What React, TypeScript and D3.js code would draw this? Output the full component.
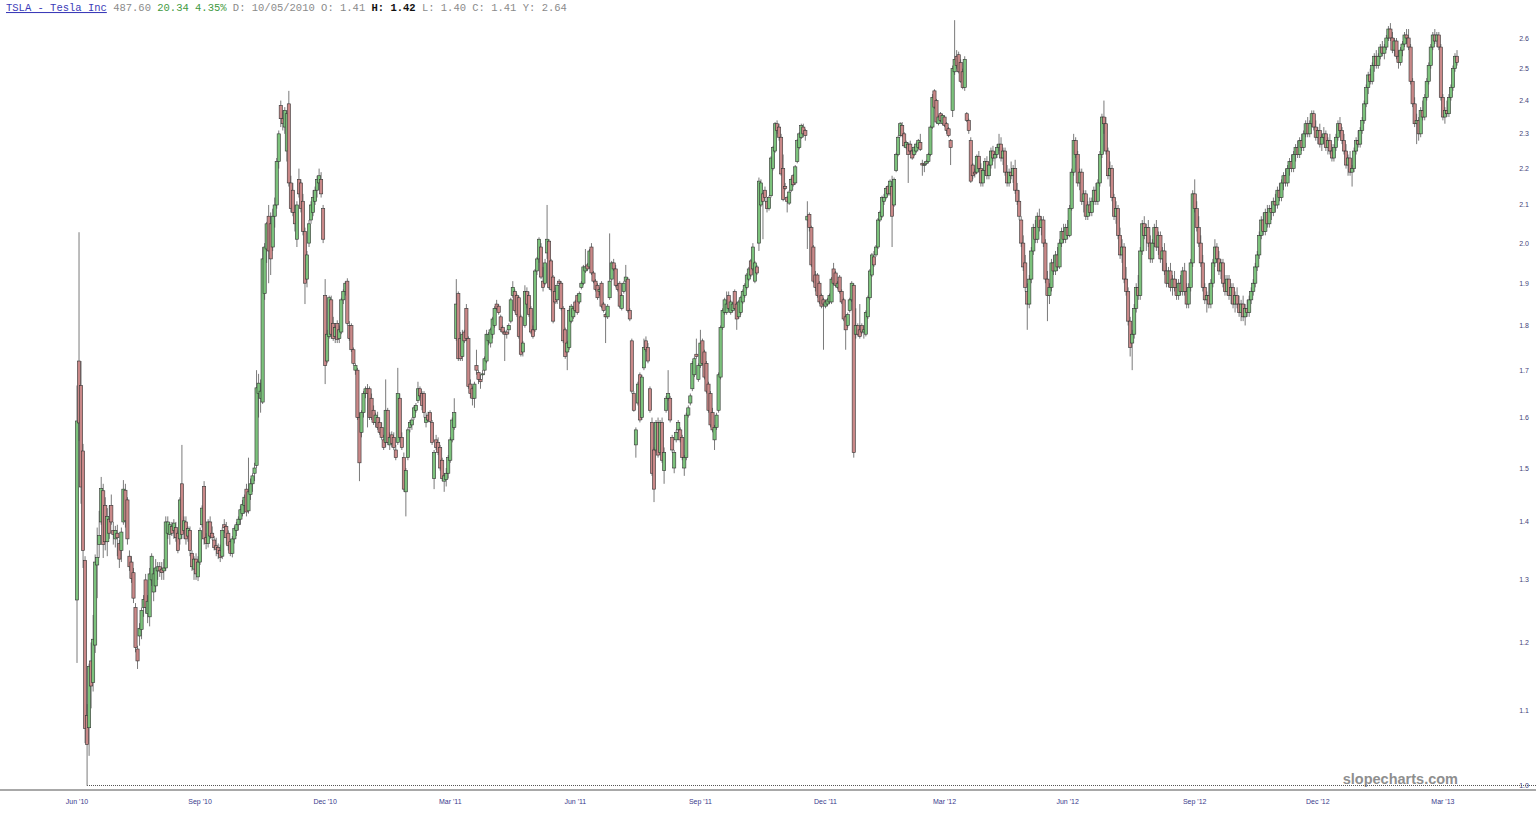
import React from 'react';
import * as d3 from 'd3';

// Daily TSLA candles (split adjusted), prices x1000, rows are [open, high, low, close]
const IPO_TO_NOV_2010: number[][] = [
  [1267,1667,1169,1593],[1720,2028,1553,1589],[1667,1720,1433,1464],[1533,1547,1320,1350],[1333,1340,1055,1075],
  [1093,1109,999,1053],[1076,1168,1038,1164],[1172,1200,1103,1135],[1140,1243,1127,1205],[1196,1343,1184,1330],
  [1325,1390,1270,1338],[1360,1420,1337,1376],[1400,1483,1395,1461],[1457,1470,1337,1360],[1430,1445,1350,1365],
  [1365,1425,1340,1410],[1405,1430,1370,1380],[1430,1450,1395,1400],[1385,1400,1360,1378],[1370,1393,1355,1385],
  [1380,1395,1340,1372],[1362,1368,1320,1335],[1350,1390,1330,1382],[1400,1477,1395,1460],[1458,1470,1390,1402],
  [1440,1445,1360,1370],[1340,1350,1315,1322],[1330,1340,1295,1302],[1312,1320,1262,1270],[1255,1262,1185,1192],
  [1190,1195,1160,1172],[1210,1230,1195,1222],[1220,1255,1205,1250],[1255,1275,1240,1268],[1300,1310,1245,1255],
  [1245,1275,1230,1265],[1240,1320,1225,1310],[1300,1345,1290,1340],[1280,1320,1265,1310],[1290,1335,1280,1320],
  [1315,1330,1300,1322],[1322,1330,1305,1315],[1318,1330,1300,1312],[1315,1335,1300,1320],[1320,1410,1315,1400],
  [1380,1410,1370,1400],[1378,1400,1360,1395],[1392,1400,1375,1380],[1385,1405,1370,1398],[1390,1400,1365,1372],
  [1380,1385,1345,1350],[1370,1445,1360,1440],[1470,1545,1370,1378],[1385,1410,1370,1402],[1400,1410,1360,1370],
  [1375,1392,1365,1388],[1385,1392,1340,1350],[1345,1350,1315,1322],[1318,1340,1300,1335],[1335,1345,1300,1310],
  [1305,1340,1298,1330],[1330,1390,1325,1385],[1395,1430,1390,1425],[1465,1475,1360,1370],[1372,1380,1352,1362],
  [1362,1405,1355,1400],[1400,1410,1370,1375],[1380,1392,1368,1372],[1368,1375,1350,1355],[1358,1372,1340,1352],
  [1355,1362,1335,1345],[1350,1360,1330,1338],[1340,1390,1335,1385],[1395,1405,1380,1390],[1392,1400,1360,1372],
  [1380,1385,1350,1358],[1365,1370,1340,1345],[1345,1375,1338,1370],[1370,1392,1362,1388],[1385,1400,1375,1395],
  [1395,1410,1385,1405],[1405,1430,1395,1422],[1415,1440,1410,1432],[1430,1450,1415,1445],[1460,1470,1410,1418],
  [1420,1520,1415,1455],[1450,1480,1440,1470],[1470,1490,1455,1485],[1490,1510,1475,1500],
];

const NOV_2010_SPIKE: number[][] = [
  [1505,1700,1500,1662],[1650,1692,1600,1672],[1640,1680,1610,1655],[1632,1990,1628,1960],[1875,2000,1860,1990],
  [1985,2055,1950,2050],[2070,2100,1900,1980],[2050,2080,1920,1960],[1990,2090,1980,2070],[2070,2120,2040,2100],
  [2100,2230,2090,2220],[2220,2310,2200,2300],[2385,2400,2320,2345],[2345,2370,2310,2330],[2320,2380,2300,2370],
  [2250,2370,2220,2360],[2390,2430,2150,2160],[2160,2180,2080,2090],[2140,2160,2070,2080],[2080,2100,2030,2050],
  [2010,2110,1990,2100],[2170,2200,2120,2130],[2160,2170,2080,2090],[2110,2130,2020,2030],[2030,2040,1850,1900],
  [1910,1980,1890,1970],[2000,2060,1990,2050],[2060,2110,2050,2100],[2080,2140,2070,2120],[2110,2150,2100,2140],
  [2140,2180,2120,2170],[2160,2200,2140,2180],[2170,2190,2120,2130],[2090,2100,2000,2010],
];

const DEC_2010_TO_MAR_2011: number[][] = [
  [1870,1910,1670,1710],[1720,1790,1715,1780],[1775,1870,1770,1865],[1860,1870,1770,1780],[1805,1820,1765,1770],
  [1775,1800,1760,1795],[1805,1812,1760,1768],[1770,1800,1760,1790],[1785,1865,1780,1860],[1860,1885,1850,1880],
  [1880,1905,1870,1900],[1905,1912,1800,1805],[1800,1810,1765,1770],[1800,1805,1740,1745],[1745,1750,1710,1715],
  [1700,1715,1690,1710],[1700,1705,1595,1600],[1600,1610,1475,1510],[1570,1615,1560,1610],[1610,1655,1600,1650],
  [1650,1665,1640,1660],[1660,1670,1580,1650],[1660,1665,1595,1600],[1640,1650,1595,1600],[1615,1625,1585,1590],
  [1590,1610,1580,1605],[1600,1612,1575,1580],[1590,1600,1565,1570],[1580,1590,1555,1560],[1555,1565,1535,1540],
  [1550,1680,1540,1615],[1615,1620,1545,1550],[1545,1570,1535,1560],[1565,1572,1540,1548],[1560,1570,1535,1540],
  [1535,1545,1515,1520],[1550,1705,1545,1650],[1640,1650,1555,1560],[1560,1570,1535,1540],[1520,1530,1455,1460],
  [1455,1500,1410,1495],[1520,1580,1515,1575],[1580,1595,1570,1590],[1585,1600,1575,1595],[1600,1625,1595,1620],
  [1615,1630,1610,1625],[1635,1675,1630,1660],[1660,1665,1640,1645],[1650,1655,1615,1625],[1650,1655,1600,1610],
  [1590,1610,1580,1600],[1605,1612,1590,1595],[1610,1615,1590,1592],[1590,1595,1545,1550],[1480,1535,1460,1530],
  [1555,1565,1535,1540],[1550,1560,1525,1530],[1540,1545,1495,1500],[1515,1520,1475,1480],[1475,1490,1455,1485],
  [1478,1500,1465,1490],[1490,1525,1480,1520],[1515,1560,1510,1555],[1555,1600,1550,1595],[1580,1640,1575,1610],
];

const APR_TO_MAY_2011: number[][] = [
  [1770,1910,1765,1850],[1875,1880,1720,1725],[1770,1785,1720,1725],[1730,1790,1720,1780],[1785,1790,1760,1765],
  [1840,1850,1765,1770],[1770,1775,1660,1665],[1670,1680,1640,1650],[1660,1665,1625,1640],[1640,1675,1620,1670],
  [1710,1745,1690,1700],[1695,1700,1670,1680],[1680,1690,1660,1675],[1690,1700,1680,1692],[1700,1730,1690,1725],
  [1720,1790,1715,1780],[1765,1785,1755,1780],[1760,1795,1750,1790],[1780,1820,1770,1815],[1800,1845,1795,1840],
  [1850,1860,1835,1840],[1845,1850,1825,1830],[1820,1825,1785,1790],[1795,1800,1780,1785],[1785,1790,1720,1780],
  [1785,1790,1770,1780],[1790,1805,1780,1800],[1810,1865,1805,1860],[1870,1905,1865,1890],[1880,1885,1830,1835],
  [1870,1875,1820,1825],[1865,1870,1770,1775],[1820,1825,1730,1735],[1740,1765,1730,1760],[1800,1895,1795,1880],
  [1880,1890,1840,1850],[1870,1880,1820,1825],[1840,1845,1780,1785],[1790,1800,1770,1775],[1790,1935,1785,1930],
  [1930,1965,1920,1960],[1960,2015,1950,2010],[1990,2000,1910,1915],[1905,1940,1880,1890],[1900,1960,1895,1950],
];

const JUN_TO_JUL_2011: number[][] = [
  [1975,2100,1960,2010],[2005,2010,1885,1890],[1955,1960,1880,1885],[1915,1920,1805,1810],[1880,1890,1850,1855],
  [1860,1900,1850,1895],[1905,1910,1895,1900],[1900,1905,1835,1840],[1840,1845,1760,1765],[1790,1795,1725,1730],
  [1740,1765,1700,1760],[1750,1840,1745,1835],[1810,1850,1805,1845],[1820,1845,1815,1840],[1855,1860,1830,1835],
  [1870,1875,1825,1830],[1855,1880,1850,1875],[1890,1905,1885,1900],[1900,1945,1895,1940],[1930,1985,1925,1940],
  [1945,1950,1930,1935],[1940,1985,1935,1980],[1990,2000,1920,1925],[1925,1930,1900,1905],[1905,1910,1880,1885],
  [1895,1900,1860,1865],[1880,1890,1870,1885],[1900,1905,1840,1845],[1850,1855,1830,1835],[1825,1830,1760,1820],
  [1820,1850,1815,1845],[1865,2025,1860,1905],[1910,1955,1905,1950],[1950,1960,1930,1935],[1935,1945,1890,1895],
  [1895,1900,1880,1885],[1900,1905,1840,1845],[1840,1875,1835,1870],[1880,1905,1875,1900],[1905,1945,1900,1915],
  [1910,1915,1830,1835],[1835,1840,1810,1815],
];

const AUG_TO_OCT_2011: number[][] = [
  [1765,1770,1650,1655],[1650,1655,1612,1615],[1545,1580,1520,1575],[1630,1675,1625,1670],[1690,1695,1590,1595],
  [1600,1690,1595,1685],[1705,1770,1700,1750],[1765,1775,1740,1745],[1750,1760,1715,1720],[1660,1665,1610,1615],
  [1590,1600,1485,1490],[1535,1540,1436,1460],[1535,1595,1530,1590],[1590,1600,1520,1525],[1530,1595,1525,1590],
  [1590,1600,1510,1515],[1495,1540,1470,1530],[1615,1645,1610,1640],[1640,1700,1635,1650],[1640,1645,1590,1595],
  [1560,1565,1530,1535],[1500,1535,1490,1530],[1555,1575,1550,1570],[1575,1595,1570,1590],[1575,1580,1550,1555],
  [1560,1565,1515,1520],[1500,1525,1485,1520],[1520,1610,1515,1605],[1605,1625,1600,1620],[1630,1650,1625,1645],
  [1660,1720,1655,1715],[1690,1730,1685,1725],[1735,1770,1725,1730],[1680,1715,1675,1710],[1710,1790,1705,1760],
  [1765,1770,1710,1715],[1740,1745,1680,1685],[1715,1720,1650,1655],[1670,1675,1610,1615],[1650,1655,1580,1585],
  [1610,1620,1570,1575],[1555,1585,1535,1580],[1580,1610,1575,1605],[1615,1695,1610,1690],[1685,1800,1680,1795],
  [1795,1840,1790,1835],[1830,1865,1825,1860],[1830,1880,1825,1850],[1870,1880,1835,1840],[1830,1860,1825,1855],
  [1835,1855,1830,1850],[1880,1885,1835,1840],[1850,1855,1790,1815],[1820,1860,1815,1855],[1830,1870,1825,1865],
  [1855,1885,1850,1880],[1870,1900,1865,1895],[1890,1925,1885,1920],[1910,1940,1905,1935],[1955,1960,1915,1920],
  [1935,2000,1930,1990],[1905,1955,1900,1950],[1940,1945,1920,1925],[2000,2175,1980,2165],
];

const NOV_2011: number[][] = [
  [2100,2170,2095,2160],[2130,2135,2010,2110],[2140,2150,2110,2120],[2110,2120,2080,2090],[2090,2125,2085,2120],
  [2125,2235,2120,2230],[2200,2265,2195,2260],[2250,2335,2245,2330],[2330,2340,2300,2310],[2320,2330,2280,2290],
  [2290,2300,2180,2185],[2200,2240,2110,2115],[2150,2160,2140,2145],[2120,2125,2080,2110],[2105,2140,2100,2135],
  [2140,2175,2135,2170],[2180,2185,2150,2155],[2160,2210,2155,2205],[2220,2285,2215,2280],[2260,2305,2255,2300],
  [2290,2330,2285,2325],[2320,2330,2290,2300],[2310,2315,2280,2295],
];

const DEC_2011_TO_MAR_2012: number[][] = [
  [2060,2110,1985,2070],[2075,2080,2030,2040],[2040,2045,1940,1945],[1990,1995,1900,1905],[1920,1930,1880,1890],
  [1920,1925,1865,1870],[1900,1905,1850,1855],[1870,1875,1840,1845],[1860,1865,1745,1850],[1845,1860,1840,1855],
  [1850,1865,1845,1860],[1855,1875,1850,1870],[1855,1915,1850,1910],[1935,1950,1895,1900],[1925,1930,1890,1895],
  [1890,1905,1885,1900],[1915,1920,1875,1880],[1880,1885,1850,1855],[1860,1865,1810,1815],[1820,1825,1745,1790],
  [1800,1830,1795,1825],[1835,1865,1830,1860],[1860,1905,1855,1900],[1895,1900,1520,1530],[1780,1840,1770,1800],
  [1800,1805,1775,1780],[1790,1850,1770,1775],[1800,1805,1780,1785],[1785,1800,1770,1790],[1780,1835,1775,1830],
  [1820,1870,1815,1865],[1865,1935,1860,1930],[1920,1975,1915,1970],[1965,1980,1940,1945],[1970,1995,1965,1990],
  [1990,2065,1985,2060],[2060,2085,2055,2080],[2070,2125,2065,2120],[2110,2130,2100,2120],[2120,2150,2115,2145],
  [2150,2155,2125,2130],[2130,2170,2125,2165],[2150,2180,1990,2070],[2100,2175,2095,2170],[2195,2245,2190,2240],
  [2240,2295,2235,2290],[2295,2335,2290,2330],[2325,2335,2290,2295],[2300,2305,2260,2265],[2260,2280,2255,2275],
  [2270,2275,2160,2240],[2270,2280,2240,2250],[2250,2255,2225,2230],[2240,2265,2235,2260],[2250,2275,2245,2270],
  [2260,2285,2255,2280],[2275,2300,2250,2255],[2215,2225,2180,2210],[2210,2220,2190,2212],[2215,2225,2210,2220],
  [2220,2245,2215,2240],[2240,2325,2235,2320],[2320,2420,2315,2410],[2430,2435,2375,2380],[2400,2405,2330,2335],
  [2330,2355,2325,2350],[2360,2365,2335,2340],[2330,2360,2325,2355],[2350,2355,2320,2325],[2330,2335,2300,2310],
  [2315,2320,2290,2295],[2280,2285,2210,2260],[2370,2510,2350,2500],[2490,2660,2480,2530],[2540,2560,2500,2510],
  [2545,2555,2485,2490],[2520,2530,2455,2460],[2490,2500,2435,2440],[2440,2540,2430,2530],[2360,2365,2335,2340],
  [2340,2345,2300,2310],[2280,2290,2160,2165],[2210,2215,2170,2180],[2190,2200,2175,2185],
];

const APR_2012_TO_MAR_2013: number[][] = [
  [2190,2240,2185,2235],[2235,2250,2190,2200],[2200,2215,2150,2160],[2160,2200,2150,2195],[2195,2230,2180,2220],
  [2220,2235,2170,2180],[2180,2220,2170,2210],[2210,2260,2200,2250],[2250,2265,2220,2230],[2230,2250,2200,2240],
  [2240,2270,2230,2260],[2260,2300,2250,2270],[2270,2290,2220,2230],[2230,2260,2210,2250],[2250,2260,2180,2190],
  [2190,2210,2150,2160],[2160,2200,2150,2190],[2190,2220,2170,2180],[2180,2210,2160,2200],[2200,2225,2130,2140],
  [2140,2160,2100,2110],[2110,2140,2060,2070],[2060,2070,1990,2000],[2000,2020,1930,1940],[1950,1970,1880,1890],
  [1880,1900,1790,1850],[1850,1920,1840,1910],[1910,1990,1900,1980],[1980,2050,1970,2040],[2040,2060,2000,2010],
  [2010,2080,2000,2070],[2070,2090,2030,2040],[2040,2070,2020,2060],[2060,2070,1990,2000],[2000,2010,1900,1910],
  [1910,1930,1810,1870],[1870,1900,1850,1890],[1890,1960,1880,1950],[1950,1970,1920,1930],[1930,1980,1920,1970],
  [1970,1990,1930,1940],[1940,2010,1935,2000],[2000,2040,1990,2030],[2030,2050,2000,2010],[2010,2050,2000,2040],
  [2040,2060,2010,2020],[2020,2100,2015,2090],[2090,2200,2085,2190],[2190,2300,2180,2280],[2280,2290,2230,2240],
  [2240,2250,2150,2160],[2160,2200,2140,2190],[2190,2200,2100,2110],[2110,2140,2080,2130],[2130,2140,2060,2070],
  [2070,2110,2060,2100],[2100,2120,2070,2080],[2080,2120,2070,2110],[2110,2150,2100,2140],[2140,2160,2100,2110],
  [2110,2170,2100,2160],[2160,2250,2150,2240],[2240,2360,2230,2350],[2350,2400,2300,2330],[2330,2350,2240,2250],
  [2250,2260,2170,2180],[2180,2220,2150,2200],[2200,2210,2110,2120],[2120,2130,2060,2070],[2070,2110,2050,2090],
  [2090,2100,2010,2020],[2020,2040,1960,1970],[1970,2010,1950,1990],[1990,2000,1900,1910],[1910,1940,1870,1880],
  [1880,1890,1800,1810],[1810,1820,1730,1750],[1760,1790,1700,1780],[1780,1850,1770,1840],[1840,1900,1830,1890],
  [1890,1920,1860,1870],[1870,1990,1860,1980],[1980,2060,1970,2050],[2050,2070,2010,2020],[2020,2050,1980,2040],
  [2040,2060,1990,2000],[2000,2020,1950,1960],[1960,2010,1950,2000],[2000,2050,1990,2040],[2040,2060,1980,1990],
  [1990,2030,1970,2020],[2020,2030,1950,1960],[1960,1990,1930,1980],[1980,2000,1920,1930],[1930,1950,1890,1900],
  [1900,1940,1890,1930],[1930,1950,1880,1890],[1890,1920,1870,1910],[1910,1930,1880,1890],[1890,1910,1860,1870],
  [1870,1910,1860,1900],[1900,1920,1870,1880],[1880,1940,1870,1930],[1930,1950,1870,1880],[1880,1900,1840,1850],
  [1850,1900,1840,1890],[1890,1960,1880,1950],[1950,2140,1940,2130],[2130,2170,2080,2090],[2090,2110,2030,2040],
  [2040,2070,1990,2000],[2000,2020,1940,1950],[1950,1970,1880,1890],[1890,1900,1850,1860],[1860,1880,1830,1870],
  [1870,1900,1840,1850],[1850,1910,1840,1900],[1900,1960,1890,1950],[1950,2010,1940,1990],[1990,2000,1950,1960],
  [1960,1980,1920,1930],[1930,1960,1910,1950],[1950,1960,1890,1900],[1900,1920,1870,1880],[1880,1920,1870,1910],
  [1910,1920,1860,1870],[1870,1900,1850,1890],[1890,1900,1840,1850],[1850,1880,1830,1870],[1870,1890,1840,1850],
  [1850,1870,1820,1830],[1830,1860,1810,1850],[1850,1870,1810,1820],[1820,1850,1800,1840],[1840,1860,1820,1830],
  [1830,1870,1820,1860],[1860,1890,1850,1880],[1880,1910,1870,1900],[1900,1950,1890,1940],[1940,1980,1930,1970],
  [1970,2030,1960,2020],[2020,2070,2010,2060],[2060,2080,2020,2030],[2030,2090,2020,2080],[2080,2100,2040,2050],
  [2050,2100,2040,2090],[2090,2110,2060,2080],[2080,2120,2070,2110],[2110,2130,2080,2100],[2100,2150,2090,2140],
  [2140,2160,2110,2120],[2120,2170,2110,2160],[2160,2190,2140,2180],[2180,2200,2150,2160],[2160,2210,2150,2200],
  [2200,2230,2180,2220],[2220,2240,2190,2200],[2200,2250,2190,2240],[2240,2270,2220,2260],[2260,2280,2230,2240],
  [2240,2290,2230,2280],[2280,2300,2250,2260],[2260,2310,2250,2300],[2300,2340,2290,2330],[2330,2350,2290,2300],
  [2300,2340,2290,2330],[2330,2370,2320,2360],[2360,2370,2310,2320],[2320,2340,2280,2290],[2290,2320,2270,2310],
  [2310,2330,2260,2270],[2270,2300,2250,2290],[2290,2320,2270,2300],[2300,2310,2250,2260],[2260,2290,2240,2280],
  [2280,2300,2240,2250],[2250,2270,2220,2230],[2230,2270,2220,2260],[2260,2300,2250,2290],[2290,2340,2280,2330],
  [2330,2350,2300,2310],[2310,2320,2270,2280],[2280,2300,2240,2250],[2250,2270,2200,2210],[2210,2240,2180,2230],
  [2230,2250,2180,2190],[2190,2210,2150,2200],[2200,2260,2190,2250],[2250,2290,2240,2280],[2280,2310,2260,2270],
  [2270,2320,2260,2310],[2310,2350,2300,2340],[2340,2400,2330,2390],[2390,2450,2380,2440],[2440,2490,2420,2480],
  [2480,2500,2450,2460],[2460,2520,2450,2510],[2510,2550,2490,2540],[2540,2560,2500,2510],[2510,2550,2500,2540],
  [2540,2580,2530,2570],[2570,2590,2540,2550],[2550,2580,2530,2570],[2570,2610,2560,2600],[2600,2640,2590,2630],
  [2630,2650,2590,2600],[2600,2620,2550,2560],[2560,2600,2540,2590],[2590,2600,2530,2540],[2540,2560,2500,2520],
  [2520,2570,2510,2560],[2560,2590,2540,2580],[2580,2620,2570,2610],[2610,2630,2580,2600],[2600,2630,2560,2570],
  [2570,2580,2450,2460],[2460,2470,2380,2390],[2390,2410,2320,2330],[2330,2360,2270,2340],[2340,2350,2280,2300],
  [2300,2380,2290,2370],[2370,2400,2340,2350],[2350,2420,2340,2410],[2410,2470,2400,2460],[2460,2520,2450,2510],
  [2510,2580,2500,2570],[2570,2620,2560,2610],[2610,2630,2580,2590],[2590,2620,2570,2610],[2610,2620,2560,2570],
  [2570,2580,2400,2410],[2410,2420,2340,2350],[2350,2380,2330,2370],[2370,2400,2350,2360],[2360,2420,2350,2410],
  [2410,2450,2400,2440],[2440,2510,2430,2500],[2500,2550,2490,2540],[2540,2560,2510,2520],
];

const Y_TICKS = [1.0, 1.1, 1.2, 1.3, 1.4, 1.5, 1.6, 1.7, 1.8, 1.9, 2.0, 2.1, 2.2, 2.3, 2.4, 2.5, 2.6];
const X_TICK_LABELS = ["Jun '10", "Sep '10", "Dec '10", "Mar '11", "Jun '11", "Sep '11", "Dec '11", "Mar '12", "Jun '12", "Sep '12", "Dec '12", "Mar '13"];
const X_TICK_INDEX = [0, 61, 123, 185, 247, 309, 371, 430, 491, 554, 615, 677];

const W = 1536;
const H = 816;

export default function App() {
  const rows = [
    ...IPO_TO_NOV_2010, ...NOV_2010_SPIKE, ...DEC_2010_TO_MAR_2011, ...APR_TO_MAY_2011,
    ...JUN_TO_JUL_2011, ...AUG_TO_OCT_2011, ...NOV_2011, ...DEC_2011_TO_MAR_2012, ...APR_2012_TO_MAR_2013,
  ];
  const candles = rows.map(([o, h, l, c], i) => ({ i, o: o / 1000, h: h / 1000, l: l / 1000, c: c / 1000 }));

  const x = d3.scaleLinear().domain([0, candles.length - 1]).range([77, 1457]);
  const y = d3.scaleLog().domain([1.0, 2.6]).range([785, 38]);
  const bw = 3.2;

  const mono = "'Liberation Mono', 'Courier New', monospace";

  return (
    <svg width={W} height={H} style={{ position: 'absolute', left: 0, top: 0, background: '#fff' }}>
      <rect x={0} y={0} width={W} height={H} fill="#ffffff" />

      {/* header */}
      <text x={6} y={11} fontFamily={mono} fontSize={10.5} style={{ whiteSpace: 'pre' }}>
        <tspan fill="#3b3bb8" textDecoration="underline">TSLA - Tesla Inc</tspan>
        <tspan fill="#8a8a8a"> 487.60</tspan>
        <tspan fill="#3f9a3f"> 20.34 4.35%</tspan>
        <tspan fill="#8a8a8a"> D: 10/05/2010 O: 1.41 </tspan>
        <tspan fill="#111" fontWeight="bold">H: 1.42</tspan>
        <tspan fill="#8a8a8a"> L: 1.40 C: 1.41 Y: 2.64</tspan>
      </text>

      {/* watermark */}
      <text x={1458} y={784} textAnchor="end" fontFamily="'Liberation Sans', Arial, sans-serif"
        fontWeight="bold" fontSize={14.5} fill="#8e8e8e">slopecharts.com</text>

      {/* baseline dotted line */}
      <line x1={87} x2={W} y1={785.5} y2={785.5} stroke="#555" strokeWidth={1} strokeDasharray="1,1" />
      {/* bottom axis bar */}
      <rect x={0} y={789} width={W} height={2} fill="#a8a8a8" />

      {/* candles */}
      <g>
        {candles.map(d => (
          <line key={'w' + d.i} x1={x(d.i)} x2={x(d.i)} y1={y(d.h)} y2={y(d.l)} stroke="#7a7a7a" strokeWidth={1} />
        ))}
        {candles.map(d => {
          const up = d.c >= d.o;
          const top = y(Math.max(d.o, d.c));
          const bot = y(Math.min(d.o, d.c));
          return (
            <rect key={'b' + d.i} x={x(d.i) - bw / 2} y={top} width={bw} height={Math.max(1, bot - top)}
              fill={up ? '#7cc27c' : '#c98888'} stroke="#333" strokeWidth={0.6} />
          );
        })}
      </g>

      {/* y axis labels */}
      {Y_TICKS.map(t => (
        <text key={t} x={1524} y={y(t) + 2.5} textAnchor="middle" fontFamily="'Liberation Sans', Arial, sans-serif"
          fontSize={7} fill="#44447a">{t.toFixed(1)}</text>
      ))}

      {/* x axis labels */}
      {X_TICK_LABELS.map((lab, k) => (
        <text key={lab} x={x(X_TICK_INDEX[k])} y={804} textAnchor="middle"
          fontFamily="'Liberation Sans', Arial, sans-serif" fontSize={7} fill="#3a3a8c">{lab}</text>
      ))}
    </svg>
  );
}
